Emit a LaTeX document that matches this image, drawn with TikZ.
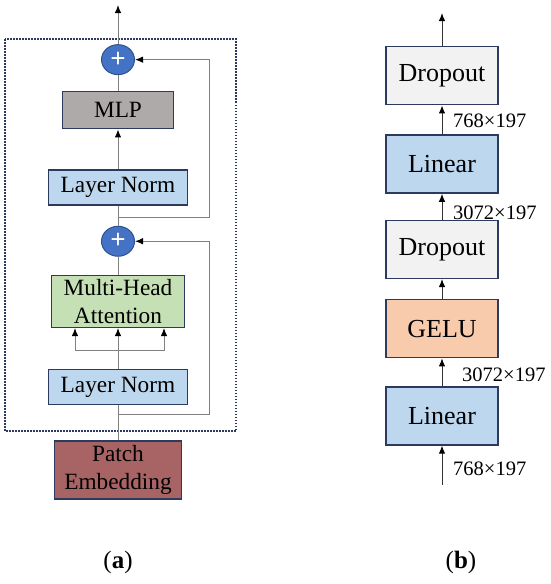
\documentclass[tikz,border=0pt]{standalone}
\usepackage{fontspec}
\setmainfont{Liberation Serif}
\usetikzlibrary{positioning,arrows.meta,shapes.geometric}

\definecolor{edge}{HTML}{2B3A5E}
\definecolor{lnblue}{HTML}{BDD7EE}
\definecolor{mlpgray}{HTML}{AEAAAA}
\definecolor{attgreen}{HTML}{C5E0B4}
\definecolor{embred}{HTML}{A86464}
\definecolor{plusblue}{HTML}{4472C4}
\definecolor{plusedge}{HTML}{2F528F}
\definecolor{dropgray}{HTML}{F2F2F2}
\definecolor{geluorange}{HTML}{F8CBAD}
\definecolor{linegray}{HTML}{808080}
\definecolor{flowgray}{HTML}{333333}

\begin{document}
\begin{tikzpicture}[x=1pt, y=-1pt, >={Latex[length=8pt,width=6.5pt,color=black]},
    blk/.style = {draw=edge, line width=1.3pt, inner sep=0pt, align=center, font=\fontsize{23.3}{27.5}\selectfont},
    wide/.style = {blk, minimum width=139pt, minimum height=35pt},
    bbox/.style = {blk, minimum width=112pt, minimum height=58pt, font=\fontsize{26}{28}\selectfont},
    plus/.style = {draw=plusedge, fill=plusblue, ellipse, line width=1pt, minimum width=33pt, minimum height=30pt, inner sep=0pt, text=white, font=\fontsize{27}{27}\selectfont\bfseries},
    link/.style = {draw=linegray, line width=1pt},
    flow/.style = {draw=flowgray, line width=1pt},
    dim/.style = {anchor=west, inner sep=0pt, font=\fontsize{20.5}{22}\selectfont},
    caption/.style = {inner sep=0pt, font=\fontsize{25}{26}\selectfont}]
    \useasboundingbox (0,0) rectangle (550,584);

    % (a) encoder block
    \draw[draw=edge, line width=1.5pt, dash pattern=on 1.5pt off 1.5pt] (5,39) rectangle (236,431);
    \node[blk, fill=embred, minimum width=127pt, minimum height=58pt, font=\fontsize{23.3}{28}\selectfont] (embed) at (118,470) {Patch\\Embedding};
    \node[wide, fill=lnblue] (norm1) [above=35pt of embed] {Layer Norm};
    \node[blk, fill=attgreen, minimum width=133pt, minimum height=52pt] (attn) [above=41pt of norm1] {Multi-Head\\Attention};
    \node[plus] (add1) [above=18pt of attn] {+};
    \node[wide, fill=lnblue] (norm2) [above=20pt of add1] {Layer Norm};
    \node[blk, fill=mlpgray, minimum width=111pt, minimum height=37pt] (mlp) [above=40pt of norm2] {MLP};
    \node[plus] (add2) [above=16pt of mlp] {+};
    \coordinate (out) at (118,5);
    \coordinate (fork) at (118,350);
    \coordinate (tap1) at (118,414);
    \coordinate (tap2) at (118,217);

    \draw[link] (embed) -- (norm1);
    \draw[link] (norm1) -- (fork);
    \draw[link, ->] (fork) -- (attn);
    \draw[link, ->] (fork) -| ([xshift=-43pt]attn.south);
    \draw[link, ->] (fork) -| ([xshift=46pt]attn.south);
    \draw[link] (attn) -- (add1);
    \draw[link, ->] (tap1) -- ++(91,0) |- (add1);
    \draw[link] (add1) -- (norm2);
    \draw[link, ->] (norm2) -- (mlp);
    \draw[link, ->] (tap2) -- ++(91,0) |- (add2);
    \draw[link] (mlp) -- (add2);
    \draw[link, ->] (add2) -- (out);

    % (b) MLP
    \node[bbox, fill=lnblue] (lin1) at (442,416) {Linear};
    \node[bbox, fill=geluorange] (gelu) [above=28pt of lin1] {GELU};
    \node[bbox, fill=dropgray] (drop1) [above=20pt of gelu] {Dropout};
    \node[bbox, fill=lnblue] (lin2) [above=26pt of drop1] {Linear};
    \node[bbox, fill=dropgray] (drop2) [above=29pt of lin2] {Dropout};
    \coordinate (inp) at (442,485);
    \coordinate (res) at (442,13);

    \draw[flow, ->] (inp) -- (lin1);
    \draw[flow, ->] (lin1) -- (gelu);
    \draw[flow, ->] (gelu) -- (drop1);
    \draw[flow, ->] (drop1) -- (lin2);
    \draw[flow, ->] (lin2) -- (drop2);
    \draw[flow, ->] (drop2) -- (res);

    \node[dim] (dimin) at (453,469) {768×197};
    \node[dim] (dimgelu) at (462,375) {3072×197};
    \node[dim] (dimdrop) at (453,213) {3072×197};
    \node[dim] (dimout) at (453,121) {768×197};

    \node[caption] (capa) at (118,562) {(\textbf{a})};
    \node[caption] (capb) at (461,562) {(\textbf{b})};
\end{tikzpicture}
\end{document}
